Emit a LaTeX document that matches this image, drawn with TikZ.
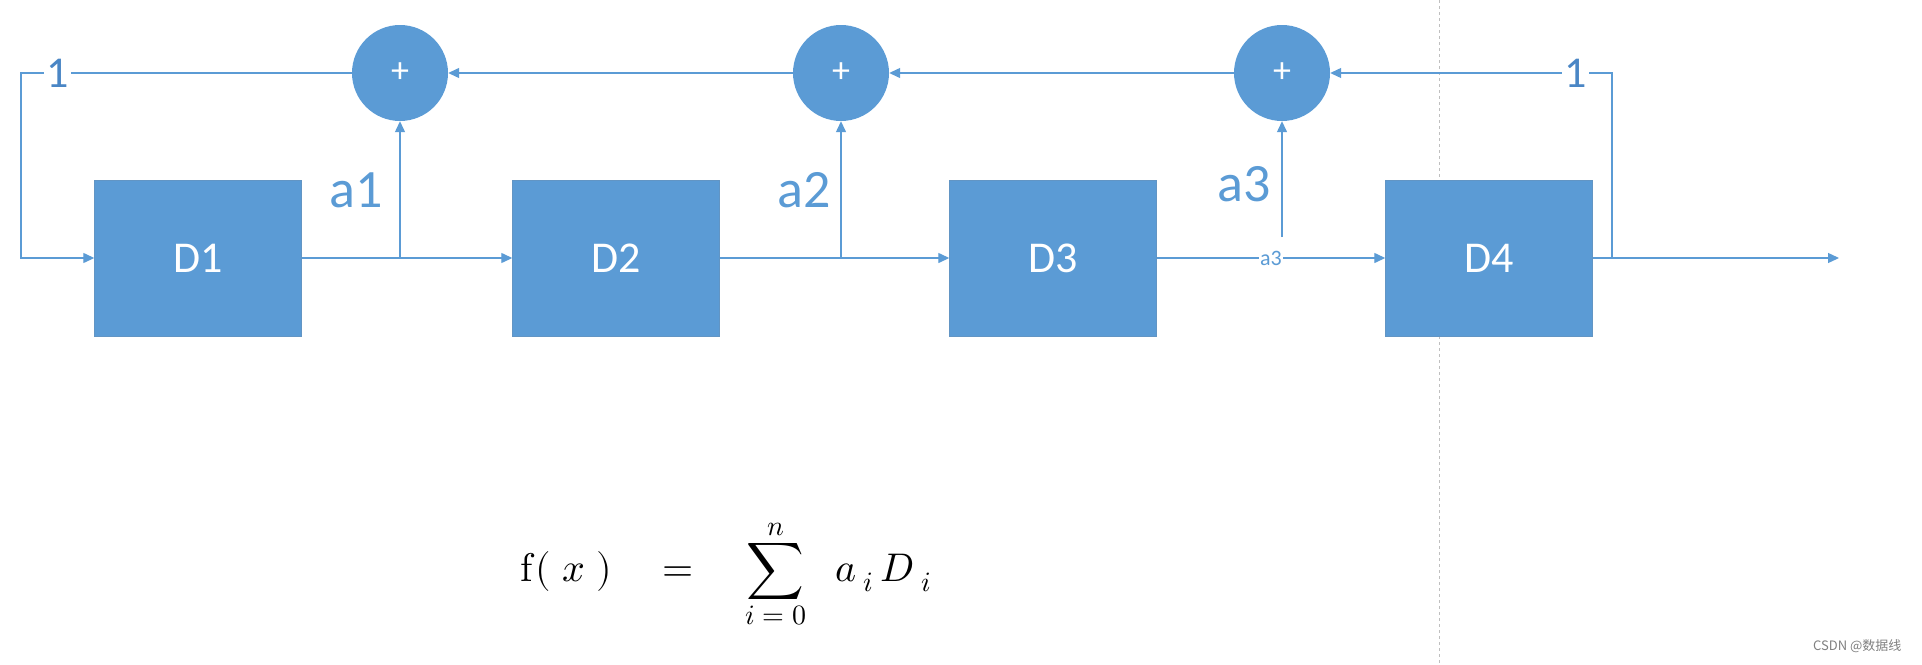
\documentclass[tikz,border=0pt]{standalone}
\usepackage{unicode-math}
\setmainfont{Carlito}
\setmathfont{Latin Modern Math}
\newfontfamily\cjkf{Noto Sans CJK SC}
\usetikzlibrary{arrows.meta}
\definecolor{blu}{HTML}{5B9BD5}
\definecolor{lbl}{HTML}{4A86C5}
\begin{document}
\begin{tikzpicture}[x=1pt,y=-1pt,
  box/.style={fill=blu,draw=blu!80!gray,minimum width=207pt,minimum height=156pt,inner sep=0,text=white,font=\fontsize{44}{48}\selectfont},
  sum/.style={circle,fill=blu,minimum size=96pt,inner sep=0,text=white,font=\fontsize{36}{38}\selectfont},
  ln/.style={draw=blu,line width=1.3pt},
  arr/.style={ln,-{Triangle[length=11pt,width=10pt]}},
  lab/.style={text=blu,font=\fontsize{54}{58}\selectfont,inner sep=0},
  one/.style={text=lbl,font=\fontsize{44}{48}\selectfont,fill=white,inner sep=2pt}]
\useasboundingbox (0,0) rectangle (1922,664);
\draw[gray!50,dashed,line width=0.8pt] (1439,0) -- (1439,664);
\node[box] (d1) at (198,258) {D1};
\node[box] (d2) at (616,258) {D2};
\node[box] (d3) at (1053,258) {D3};
\node[box] (d4) at (1489,258) {D4};
\node[sum] (s1) at (400,73) {+};
\node[sum] (s2) at (841,73) {+};
\node[sum] (s3) at (1282,73) {+};
\coordinate (j1) at (400,258);
\coordinate (j2) at (841,258);
\coordinate (j3) at (1282,237);
\coordinate (j4) at (1612,258);
\coordinate (out) at (1839,258);
\coordinate (lt) at (21,73);
\coordinate (lb) at (21,258);
\coordinate (rt) at (1612,73);
% main chain
\draw[ln] (d1.east) -- (j1);
\draw[arr] (j1) -- (d2.west);
\draw[ln] (d2.east) -- (j2);
\draw[arr] (j2) -- (d3.west);
\draw[arr] (d3.east) -- node[fill=white,text=blu,inner sep=1pt,font=\fontsize{22}{24}\selectfont]{a3} (d4.west);
\draw[arr] (d4.east) -- (out);
% taps
\draw[arr] (j1) -- (s1.south);
\draw[arr] (j2) -- (s2.south);
\draw[arr] (j3) -- (s3.south);
\node[lab] at (356,190) {a1};
\node[lab] at (804,190) {a2};
\node[lab] at (1244,184) {a3};
% feedback
\draw[arr] (s3.west) -- (s2.east);
\draw[arr] (s2.west) -- (s1.east);
\draw[arr] (j4) -- (rt) -- node[one,pos=0.13]{1} (s3.east);
\draw[arr] (s1.west) -- node[one,pos=0.89]{1} (lt) -- (lb) -- (d1.west);
% formula
\node[font=\fontsize{40}{44}\selectfont,inner sep=0] (f) at (726,574)
 {$\symup{f}(\;x\;)\quad=\quad\displaystyle\sum_{i\;=\;0}^{n}\;\;a_{\;i}\,D_{\;i}$};
\node[text=gray,font=\cjkf\fontsize{13}{15}\selectfont,anchor=east] at (1905,646) {CSDN @数据线};
\end{tikzpicture}
\end{document}
